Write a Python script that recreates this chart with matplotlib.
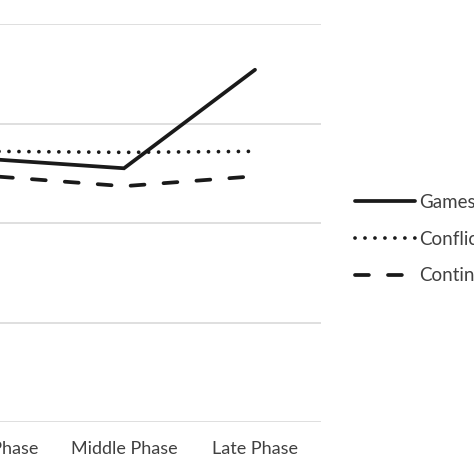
import matplotlib
matplotlib.use("Agg")
import matplotlib.pyplot as plt

phases = ["Early Phase", "Middle Phase", "Late Phase"]
games = [2.64, 2.55, 3.54]
conflict = [2.72, 2.71, 2.72]
contingency = [2.47, 2.37, 2.47]
series_names = ["Games", "Conflict", "Contingency"]

plt.rcParams["font.family"] = ["Lato", "DejaVu Sans"]

fig = plt.figure(figsize=(4.74, 4.74), dpi=100)
# plot area is cropped on the left, like the reference
ax = fig.add_axes([-72.5 / 474, 1 - 422 / 474, 393 / 474, 398 / 474])

x = range(len(phases))
lw = 2.7
l1, = ax.plot(x, games, color="#1a1a1a", lw=lw, solid_capstyle="round", solid_joinstyle="miter")
l2, = ax.plot(x, conflict, color="#1a1a1a", lw=lw, linestyle=(0, (0.01, 2.65)), dash_capstyle="round")
l3, = ax.plot(x, contingency, color="#1a1a1a", lw=lw, linestyle=(0, (3.7, 5.1)), dash_capstyle="round")

ax.set_xlim(-0.5, 2.5)
ax.set_ylim(0, 4)
ax.set_yticks([0, 1, 2, 3, 4])
ax.set_yticklabels([])
ax.set_xticks(list(x))
ax.set_xticklabels(phases, fontsize=13, color="#404040")
ax.tick_params(axis="both", length=0, pad=14)
ax.grid(axis="y", color="#d9d9d9", lw=1.2)
ax.set_axisbelow(True)
for s in ax.spines.values():
    s.set_visible(False)

fig.legend([l1, l2, l3], series_names, loc="upper left",
           bbox_to_anchor=(338 / 474, 1 - 177 / 474), frameon=False,
           fontsize=13.5, handlelength=3.2, handletextpad=0.2, labelspacing=1.05,
           labelcolor="#404040")

fig.savefig("out.png", dpi=100)
